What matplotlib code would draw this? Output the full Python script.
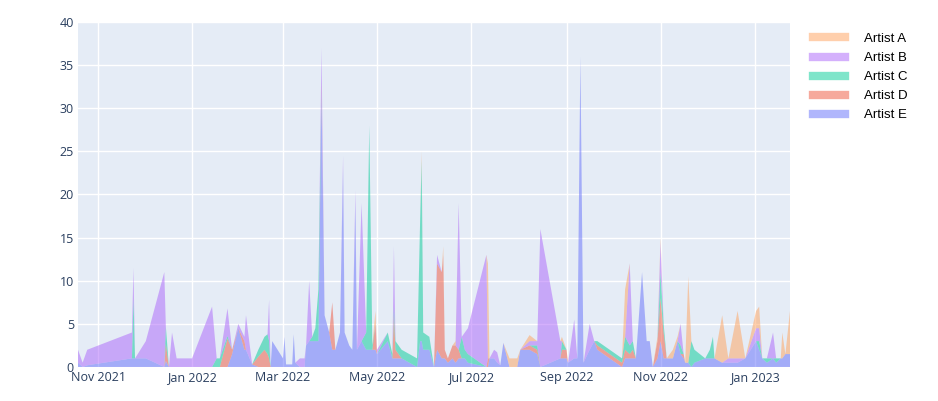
import matplotlib
matplotlib.use("Agg")
import matplotlib.pyplot as plt
import matplotlib.dates as mdates
from matplotlib.lines import Line2D
import pandas as pd

dates = [
    "2021-10-19", "2021-10-22", "2021-10-25", "2021-11-23", "2021-11-24", "2021-11-25",
    "2021-12-02", "2021-12-14", "2021-12-15", "2021-12-17", "2021-12-19", "2021-12-22",
    "2022-01-01", "2022-01-14", "2022-01-17", "2022-01-19", "2022-01-24", "2022-01-27",
    "2022-01-31", "2022-02-04", "2022-02-05", "2022-02-09", "2022-02-13", "2022-02-17",
    "2022-02-19", "2022-02-20", "2022-02-21", "2022-02-22", "2022-03-01", "2022-03-02",
    "2022-03-03", "2022-03-07", "2022-03-08", "2022-03-09", "2022-03-12", "2022-03-15",
    "2022-03-16", "2022-03-18", "2022-03-20", "2022-03-22", "2022-03-24", "2022-03-26",
    "2022-03-28", "2022-03-31", "2022-04-02", "2022-04-04", "2022-04-07", "2022-04-09",
    "2022-04-10", "2022-04-13", "2022-04-15", "2022-04-17", "2022-04-18", "2022-04-21",
    "2022-04-24", "2022-04-26", "2022-04-28", "2022-04-30", "2022-05-01", "2022-05-08",
    "2022-05-11", "2022-05-12", "2022-05-13", "2022-05-17", "2022-05-27", "2022-05-29",
    "2022-05-30", "2022-05-31", "2022-06-04", "2022-06-07", "2022-06-09", "2022-06-12",
    "2022-06-13", "2022-06-14", "2022-06-16", "2022-06-19", "2022-06-21", "2022-06-23",
    "2022-06-25", "2022-06-27", "2022-06-29", "2022-07-11", "2022-07-12", "2022-07-13",
    "2022-07-16", "2022-07-18", "2022-07-20", "2022-07-22", "2022-07-26", "2022-07-31",
    "2022-08-02", "2022-08-08", "2022-08-13", "2022-08-15", "2022-08-28", "2022-08-29",
    "2022-09-01", "2022-09-02", "2022-09-06", "2022-09-08", "2022-09-10", "2022-09-12",
    "2022-09-16", "2022-09-19", "2022-09-21", "2022-10-07", "2022-10-09", "2022-10-12",
    "2022-10-14", "2022-10-16", "2022-10-20", "2022-10-23", "2022-10-25", "2022-10-27",
    "2022-10-30", "2022-11-01", "2022-11-03", "2022-11-05", "2022-11-09", "2022-11-12",
    "2022-11-14", "2022-11-16", "2022-11-17", "2022-11-19", "2022-11-21", "2022-11-23",
    "2022-11-30", "2022-12-03", "2022-12-05", "2022-12-06", "2022-12-11", "2022-12-15",
    "2022-12-21", "2022-12-26", "2023-01-02", "2023-01-04", "2023-01-06", "2023-01-09",
    "2023-01-13", "2023-01-15", "2023-01-18", "2023-01-19", "2023-01-21", "2023-01-24",
]

artist_e = [
    0.5, 0, 0.2, 1, 1, 1, 1, 0, 0.7, 0, 0, 0,
    0, 0, 0, 0, 0, 1.5, 4.5, 2, 2, 0.3, 0, 0,
    0, 0, 0, 3, 1, 3.5, 0.3, 0.3, 3.8, 0.5, 0, 0,
    2.5, 3, 3, 3, 3, 32, 6, 4, 2, 2, 4, 23,
    4, 2.5, 2, 19, 2, 3, 2, 2, 2, 2, 1.5, 3,
    1, 1, 1, 1, 0, 3, 3, 2, 2, 0, 2, 1,
    1, 1, 0.5, 1, 0.5, 1, 1, 1, 0.5, 0, 0, 1,
    1, 0.5, 0.2, 2.8, 0, 0, 2, 2, 1.5, 0, 1, 1,
    1, 0.5, 1, 1, 36, 0.5, 2, 3, 2, 0, 1, 1,
    1, 1, 11, 3, 3, 0, 1, 3, 1, 1, 1, 3,
    1.5, 1, 0.5, 0.5, 0, 0.5, 1, 1, 1, 1, 0.5, 0.5,
    0.5, 1, 3, 2, 1, 0.5, 1, 0.5, 1, 1, 1.5, 1.5,
]

artist_d = [
    0, 0, 0, 0, 0, 0, 0, 0, 2, 0, 0, 0,
    0, 0, 0, 0, 3.3, 0.5, 0, 1, 0, 0, 1.2, 2,
    1.5, 1, 0, 0, 0, 0, 0, 0, 0, 0, 0, 0,
    0, 0, 0, 0, 0, 1, 0, 0, 5.5, 0, 0, 0,
    0, 0, 0, 0, 0, 0, 0, 0, 0, 3, 0, 0,
    0, 5, 1, 0, 0, 0, 0, 0, 0, 0, 10, 10,
    12, 1, 0.5, 1.5, 2, 1, 0, 0, 0, 0, 1, 0,
    0, 0, 0, 0, 0, 0, 0, 0.5, 0.5, 0, 0, 1,
    1, 0, 0, 0, 0, 0, 0, 0, 0.5, 0.5, 1, 0.5,
    1, 0, 0, 0, 0, 0, 2, 5, 3, 0, 0, 0,
    0, 0.5, 0, 0, 0, 0, 0, 0, 0, 0, 0, 0,
    0, 0, 0, 0, 0, 0, 0, 0, 0, 0, 0, 0,
]

artist_c = [
    0, 0, 0, 0, 7, 0, 0, 0, 2, 0, 0, 0,
    0, 0, 1, 1, 0.3, 0, 0, 0, 0, 0, 0.8, 1.5,
    2.3, 2, 0, 0, 0, 0, 0, 0, 0, 0, 0, 0,
    0, 0, 0.5, 1.5, 6, 0, 0, 0, 0, 0, 0, 0,
    0, 0, 0, 0, 0, 0, 2, 26, 0.5, 0, 0, 1,
    0.5, 1, 1, 1, 1, 14, 21, 2, 1.5, 0, 0, 0,
    0, 0, 0, 0, 0, 0, 2.5, 1, 1, 0, 0, 0,
    0, 0, 0, 0, 0, 0, 0, 0, 0.5, 0, 0, 1,
    0, 0, 0, 0, 0, 0, 0, 0, 0.5, 0.5, 1.5, 1,
    1, 0, 0, 0, 0, 0, 0, 3, 1, 0, 0, 0,
    1, 0, 0, 0, 3, 1.5, 0, 1, 2.5, 0, 0, 0,
    0, 0, 0, 1, 0, 0.5, 0, 0.5, 0, 0, 0, 0,
]

artist_b = [
    1.5, 0.5, 1.8, 3, 3.5, 0, 2, 11, 0, 0, 4, 1,
    1, 7, 0, 0, 3.2, 0, 0.5, 0.5, 4, 0, 0, 0,
    0, 4.8, 0, 0, 0, 0, 0, 0, 0, 0, 1, 1,
    0, 7, 0, 0, 0, 4, 0, 0, 0, 0, 0, 1.5,
    0, 0, 0, 1.5, 0, 16, 0, 0, 0, 0, 0.5, 0,
    0, 7, 0, 0, 0, 0, 0, 0, 0, 0, 1, 0,
    0, 0, 0, 0, 0, 17, 0, 2, 3, 13, 0, 0,
    1, 1.2, 0, 0, 0, 0, 0, 0.5, 0.5, 16, 2, 0,
    0, 0, 4.5, 0, 0, 0, 3, 0, 0, 0, 0, 9.5,
    0, 0, 0, 0, 0, 0, 0, 3.5, 0, 0, 0, 0,
    2.5, 0, 0, 0, 0, 0, 0, 0, 0, 0, 0, 0.5,
    0.5, 0, 1.5, 1.5, 0, 0, 3, 0, 0, 0, 0, 0,
]

artist_a = [
    0, 0, 0, 0, 0, 0, 0, 0, 0, 0, 0, 0,
    0, 0, 0, 0, 0, 0, 0, 0, 0, 0, 0, 0,
    0, 0, 0, 0, 0, 0, 0, 0, 0, 0, 0, 0,
    0, 0, 0, 0, 0, 0, 0, 0, 0, 0, 0, 0,
    0, 0, 0, 0, 0, 0, 0, 0, 0, 1.5, 0, 0,
    0, 0, 0, 0, 0, 0, 1, 0, 0, 0, 0, 0,
    1, 0, 0, 0, 0.5, 0, 0, 0, 0, 0, 11, 0,
    0, 0, 0, 0, 1, 1, 0, 0.7, 0, 0, 0, 0.5,
    0, 0, 0, 0, 0, 0, 0, 0, 0, 0, 5.5, 0,
    0, 0, 0, 0, 0, 0, 0.5, 0.5, 0, 0, 1, 0.5,
    0, 0, 0, 10, 0, 0, 0, 0, 0, 0, 5.5, 0,
    5.5, 0, 2, 2.5, 0, 0, 0, 0, 0, 3, 0, 5,
]

series_names = ["Artist E", "Artist D", "Artist C", "Artist B", "Artist A"]
colors = ["#636EFA", "#EF553B", "#00CC96", "#AB63FA", "#FFA15A"]


def main():
    x = pd.to_datetime(dates)

    fig = plt.figure(figsize=(9.38, 4.01), dpi=100)
    ax = fig.add_axes([78 / 938, 34 / 401, 712 / 938, 345 / 401])
    ax.set_facecolor("#E5ECF6")

    ax.stackplot(x, artist_e, artist_d, artist_c, artist_b, artist_a,
                 colors=colors, alpha=0.5, linewidth=0)

    ax.set_xlim(x[0], x[-1])
    ax.set_ylim(0, 40)
    ax.set_yticks(range(0, 41, 5))
    ax.xaxis.set_major_locator(mdates.MonthLocator(bymonth=[1, 3, 5, 7, 9, 11]))
    ax.xaxis.set_major_formatter(mdates.DateFormatter("%b %Y"))

    ax.grid(True, color="white", linewidth=1)
    ax.set_axisbelow(True)
    for s in ax.spines.values():
        s.set_visible(False)
    ax.tick_params(length=0, labelsize=9, labelcolor="#2a3f5f", pad=3)
    for lab in ax.get_xticklabels() + ax.get_yticklabels():
        lab.set_fontfamily("Open Sans")

    # legend: top trace first, as plotly does for stacked areas
    handles = [Line2D([0], [0], color=c, alpha=0.5, linewidth=6)
               for c in colors[::-1]]
    fig.legend(handles, series_names[::-1], loc="upper left",
               bbox_to_anchor=(801 / 938, 1 - 21 / 401), frameon=False,
               prop={"family": "Liberation Sans", "size": 9.5},
               handlelength=2.4, handletextpad=1.5, labelspacing=0.52)

    fig.savefig("out.png", dpi=100, facecolor="white")


if __name__ == "__main__":
    main()
